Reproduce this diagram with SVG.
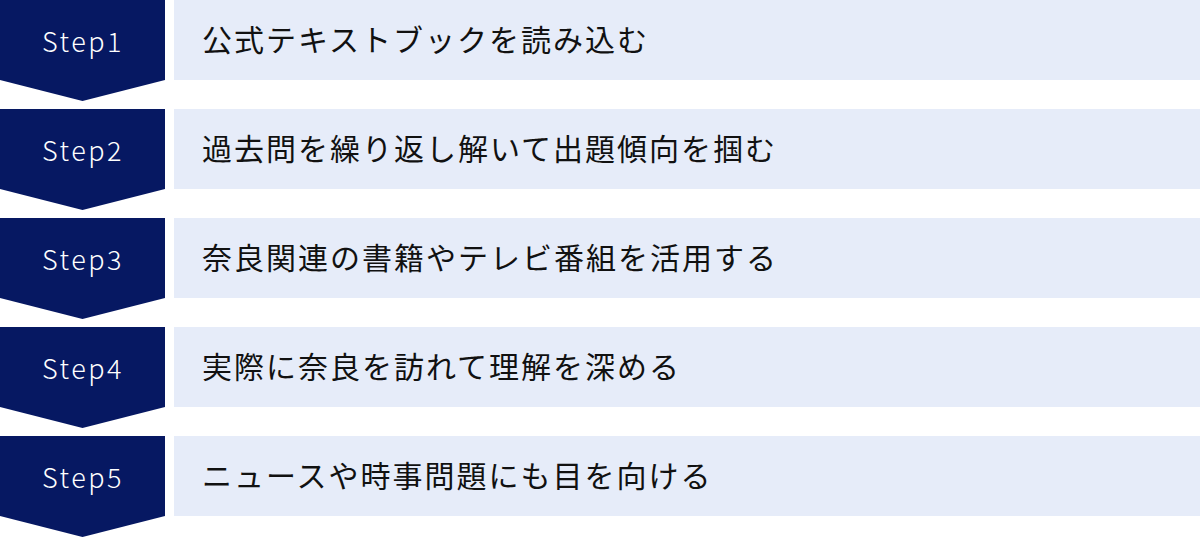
<svg xmlns="http://www.w3.org/2000/svg" width="1200" height="538" viewBox="0 0 1200 538">
<style>
.chev{fill:#061862}
.box{fill:#E6ECF9}
.step{font-family:"Noto Sans CJK JP",sans-serif;font-size:27px;font-weight:300;fill:#fff;text-anchor:middle;letter-spacing:2.5px}
.lbl{font-family:"Noto Sans CJK JP",sans-serif;font-size:30px;fill:#111;letter-spacing:2px}
</style>
<defs>
<path id="chev" d="M0 0H165V80L82.5 101L0 80Z"/>
</defs>
<g id="step1" transform="translate(0,0)">
<use href="#chev" class="chev"/>
<rect class="box" x="174" y="0" width="1026" height="80"/>
<text class="step" x="83" y="52">Step1</text>
<text class="lbl" x="202" y="51">公式テキストブックを読み込む</text>
</g>
<g id="step2" transform="translate(0,109)">
<use href="#chev" class="chev"/>
<rect class="box" x="174" y="0" width="1026" height="80"/>
<text class="step" x="83" y="52">Step2</text>
<text class="lbl" x="202" y="51">過去問を繰り返し解いて出題傾向を掴む</text>
</g>
<g id="step3" transform="translate(0,218)">
<use href="#chev" class="chev"/>
<rect class="box" x="174" y="0" width="1026" height="80"/>
<text class="step" x="83" y="52">Step3</text>
<text class="lbl" x="202" y="51">奈良関連の書籍やテレビ番組を活用する</text>
</g>
<g id="step4" transform="translate(0,327)">
<use href="#chev" class="chev"/>
<rect class="box" x="174" y="0" width="1026" height="80"/>
<text class="step" x="83" y="52">Step4</text>
<text class="lbl" x="202" y="51">実際に奈良を訪れて理解を深める</text>
</g>
<g id="step5" transform="translate(0,436)">
<use href="#chev" class="chev"/>
<rect class="box" x="174" y="0" width="1026" height="80"/>
<text class="step" x="83" y="52">Step5</text>
<text class="lbl" x="202" y="51">ニュースや時事問題にも目を向ける</text>
</g>
<g id="connectors"/>
</svg>
